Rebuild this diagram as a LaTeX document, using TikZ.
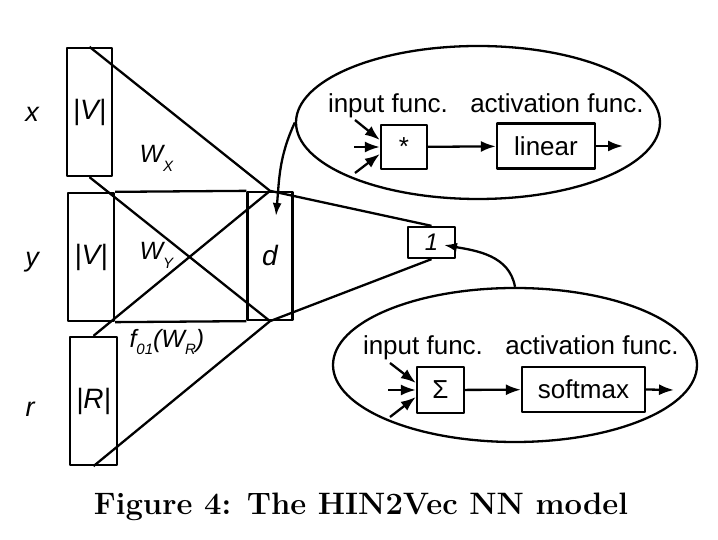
\documentclass[tikz,border=0pt]{standalone}
\usepackage{fontspec}
\newfontfamily\arial{Liberation Sans}
\usetikzlibrary{positioning,arrows.meta,shapes.geometric,calc}
\newcommand\lowsub[2][9pt]{\raisebox{-#1}{\fontsize{15}{15}\selectfont #2}}
\tikzset{
  vec/.style  = {rectangle, draw, line width=2.3pt, inner sep=0pt,
                 minimum width=46pt, minimum height=128pt,
                 font=\arial\fontsize{28}{28}\selectfont\itshape},
  unit/.style = {rectangle, draw, line width=2.3pt, inner sep=0pt,
                 minimum height=45pt, font=\arial\fontsize{26}{26}\selectfont},
  cell/.style = {ellipse, draw, line width=2.3pt, inner sep=0pt,
                 minimum width=364pt, minimum height=153pt},
  arr/.style  = {-{Latex[length=15pt,width=11pt]}, line width=2.3pt},
  curvearr/.style = {-{Latex[length=13pt,width=9pt]}, line width=2.3pt},
  lab/.style  = {font=\arial\fontsize{27}{27}\selectfont\itshape, anchor=base},
  wlab/.style = {font=\arial\fontsize{25}{25}\selectfont\itshape, anchor=base west},
  head/.style = {font=\arial\fontsize{26}{26}\selectfont, anchor=base}
}

\begin{document}
\begin{tikzpicture}[x=1pt, y=1pt, font=\arial, line join=round]
    \useasboundingbox (0,0) rectangle (718,540);

    % Eingangsvektoren und versteckte Schicht
    \node[vec, minimum width=45pt] (xbox) at (89.5,428) {|V|};
    \node[vec] (ybox) at (91,283) {|V|};
    \node[vec, minimum width=47pt] (rbox) at (93.5,139) {|R|};
    \node[vec, minimum width=45pt] (dbox) at (270,284) {d};
    \node[unit, minimum width=47pt, minimum height=31pt,
          font=\arial\fontsize{24}{24}\selectfont\itshape] (obox) at (431.5,297.5) {1};

    \node[lab] (xlab) at (32,418) {x};
    \node[lab] (ylab) at (32,273) {y};
    \node[lab] (rlab) at (30,123) {r};

    \node[wlab] (wx) at (136,377) {W\lowsub{X}};
    \node[wlab] (wy) at (136,280) {W\lowsub{Y}};
    \node[wlab] (wr) at (126,192) {f\lowsub[7pt]{01}(W\lowsub[7pt]{R})};

    % Verbindungen
    \draw[line width=2.3pt] (xbox.north) -- (dbox.north)
                          (xbox.south) -- (dbox.south)
                          (rbox.north) -- (dbox.north)
                          (rbox.south) -- (dbox.south)
                          (ybox.north east) -- (dbox.north west)
                          (ybox.south east) -- (dbox.south west)
                          (dbox.north) -- (obox.north)
                          (dbox.south) -- (obox.south);

    % Neuron oben: linear
    \node[cell] (cell1) at (478,417.5) {};
    \node[head] (in1) at (388,427) {input func.};
    \node[head] (act1) at (557,427) {activation func.};
    \node[unit, minimum width=46pt, minimum height=44pt] (mult) at (404,393) {*};
    \node[unit, minimum width=98pt] (linear) at (546,394) {linear};
    \coordinate (mA) at (355,420);
    \coordinate (mB) at (354,393);
    \coordinate (mC) at (355,367);
    \coordinate (out1) at (623,394);
    \draw[arr] (mA) -- ([yshift=7pt]mult.west);
    \draw[arr] (mB) -- (mult.west);
    \draw[arr] (mC) -- ([yshift=-7pt]mult.west);
    \draw[arr] (mult) -- (linear);
    \draw[arr] (linear) -- (out1);

    % Neuron unten: softmax
    \node[cell, minimum height=154pt] (cell2) at (515,175) {};
    \node[head] (in2) at (423,185) {input func.};
    \node[head] (act2) at (592,185) {activation func.};
    \node[unit, minimum width=47pt, minimum height=46pt] (sum) at (440.5,150) {Σ};
    \node[unit, minimum width=123pt] (softmax) at (583.5,150.5) {softmax};
    \coordinate (sA) at (390,177);
    \coordinate (sB) at (388,150);
    \coordinate (sC) at (390,123);
    \coordinate (out2) at (674,150);
    \draw[arr] (sA) -- ([yshift=7pt]sum.west);
    \draw[arr] (sB) -- (sum.west);
    \draw[arr] (sC) -- ([yshift=-7pt]sum.west);
    \draw[arr] (sum) -- (softmax);
    \draw[arr] (softmax.east) -- (out2);

    % Zuordnung der Neuronen
    \coordinate (dIn) at (276,324);
    \coordinate (oIn) at (444,295);
    \draw[curvearr] (cell1.west) to[out=245, in=85] (dIn);
    \draw[curvearr] (cell2.north) to[out=100, in=-10] (oIn);

    \node[font=\fontsize{31}{31}\selectfont\rmfamily\bfseries, anchor=base]
      (caption) at (361,25) {Figure 4: The HIN2Vec NN model};
  \end{tikzpicture}
\end{document}
